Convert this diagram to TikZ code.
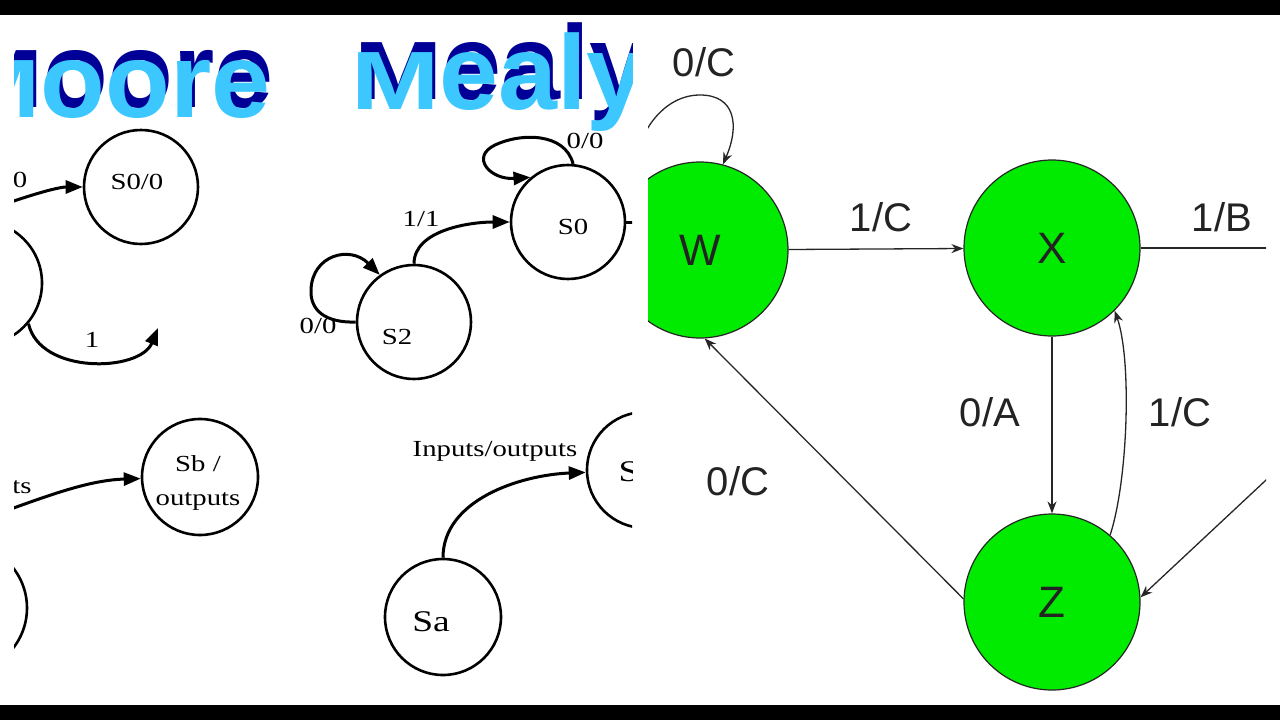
\documentclass[tikz,border=0pt]{standalone}
\usepackage{fontspec}
\usepackage{graphicx}
\usetikzlibrary{arrows.meta}
\newfontfamily\tms[FakeStretch=1.25]{Liberation Serif}
\newfontfamily\arl{Liberation Sans}
\definecolor{wablue}{RGB}{60,200,255}
\definecolor{wanavy}{RGB}{0,0,150}
\definecolor{stgreen}{RGB}{0,235,0}
\definecolor{txtgray}{RGB}{35,35,35}
\tikzset{
  lstate/.style={circle, draw, line width=2.6pt, inner sep=0pt},
  ltext/.style={inner sep=0pt, font=\tms\fontsize{23}{34}\selectfont, align=center},
  bigtext/.style={inner sep=0pt, font=\tms\fontsize{30}{34}\selectfont},
  larr/.style={line width=3pt, -{Triangle[length=17pt,width=13pt]}},
  lline/.style={line width=3pt},
  gstate/.style={circle, draw=black!85, line width=1.2pt, fill=stgreen, minimum size=176pt, inner sep=0pt, font=\arl\fontsize{44}{44}\selectfont, text=txtgray},
  glabel/.style={inner sep=0pt, font=\arl\fontsize{40}{40}\selectfont, text=txtgray},
  garr/.style={line width=1.3pt, draw=black!85, -{Stealth[length=12pt,width=9pt]}},
  gline/.style={line width=1.3pt, draw=black!85},
  wa/.style={anchor=base west, inner sep=0pt, font=\arl\bfseries\fontsize{106}{106}\selectfont},
}
\begin{document}
\begin{tikzpicture}[x=1pt,y=-1pt]
\useasboundingbox (0,0) rectangle (1280,720);
\fill[white] (0,0) rectangle (1280,720);
\fill[black] (0,0) rectangle (1280,15);
\fill[black] (0,705) rectangle (1280,720);

% ---------------- left panel ----------------
\begin{scope}
\clip (14,15) rectangle (632,705);
% word art titles
\node[wa, text=wanavy] (mooresh) at (-45,107) {\scalebox{1}[0.78]{M}oore};
\node[wa, text=wablue] (moore) at (-48,117) {\scalebox{1}[0.78]{M}oore};
\node[wa, text=wanavy] (mealysh) at (354,99) {\scalebox{1}[0.78]{M}ealy};
\node[wa, text=wablue] (mealy) at (351,109) {\scalebox{1}[0.78]{M}ealy};

% Moore diagram
\node[lstate, minimum size=114pt] (s00) at (141,187) {};
\node[ltext] (s00t) at (137,182) {S0/0};
\coordinate (c1) at (8,203);
\draw[larr] (c1) .. controls (40,192) and (60,187) .. (s00);
\node[ltext] (l0) at (20,180) {0};
\node[lstate, minimum size=124pt] (m1) at (-20,283) {};
\coordinate (c2) at (158,328);
\draw[larr] (m1.-40) .. controls (40,375) and (140,372) .. (c2);
\node[ltext] (l1) at (92,340) {1};

\node[lstate, minimum size=116pt] (sb) at (200,477) {};
\node[ltext] (sbt) at (198,483) {Sb /\\outputs};
\coordinate (c3) at (8,510);
\draw[larr] (c3) .. controls (50,495) and (90,480) .. (sb);
\node[ltext] (lts) at (22,487) {ts};
\node[lstate, minimum size=130pt] (m2) at (-38,608) {};

% Mealy diagram
\node[lstate, minimum size=114pt] (ms0) at (568,222) {};
\node[ltext] (ms0t) at (573,227) {S0};
\coordinate (c4) at (645,222);
\draw[lline] (ms0) -- (c4);
\draw[larr] (ms0.85) .. controls (565,132) and (520,133) .. (495,145)
   .. controls (470,157) and (490,180) .. (ms0.130);
\node[ltext] (lms0) at (585,141) {0/0};

\node[lstate, minimum size=114pt] (ms2) at (414,322) {};
\node[ltext] (ms2t) at (397,337) {S2};
\draw[larr] (ms2.180) .. controls (325,323) and (310,310) .. (311,290)
   .. controls (312,255) and (350,245) .. (ms2.126);
\node[ltext] (lms2) at (318,326) {0/0};
\draw[larr] (ms2.90) .. controls (414,230) and (470,222) .. (ms0.180);
\node[ltext] (l11) at (421,219) {1/1};

\node[lstate, minimum size=116pt] (msa) at (443,617) {};
\node[bigtext] (msat) at (431,622) {Sa};
\node[lstate, minimum size=116pt] (msb) at (645,470) {};
\node[bigtext] (msbt) at (629,472) {S};
\draw[larr] (msa.90) .. controls (443,500) and (520,475) .. (msb);
\node[ltext] (lio) at (495,451) {Inputs/outputs};
\end{scope}

% ---------------- right panel ----------------
\begin{scope}
\clip (648,15) rectangle (1266,705);
\node[gstate] (w) at (700,250) {W};
\node[gstate] (xn) at (1052,248) {X};
\node[gstate] (zn) at (1052,602) {Z};

\draw[garr] (w.140) .. controls (630,140) and (660,95) .. (700,95)
   .. controls (735,95) and (740,125) .. (w.75);
\node[glabel] (lw) at (704,62) {0/C};

\draw[garr] (w) -- (xn);
\node[glabel] (lwx) at (881,217) {1/C};

\coordinate (c7) at (1290,248);
\draw[gline] (xn) -- (c7);
\node[glabel] (lxb) at (1222,217) {1/B};

\draw[garr] (xn) -- (zn);
\node[glabel] (lxz) at (990,412) {0/A};

\draw[garr] (zn.49) .. controls (1128,480) and (1132,360) .. (xn.-45);
\node[glabel] (lzx) at (1180,412) {1/C};

\coordinate (c8) at (1280,467);
\draw[garr] (c8) -- (zn.3);

\draw[garr] (zn.178) -- (w.-87);
\node[glabel] (lzw) at (738,481) {0/C};
\end{scope}
\end{tikzpicture}
\end{document}
